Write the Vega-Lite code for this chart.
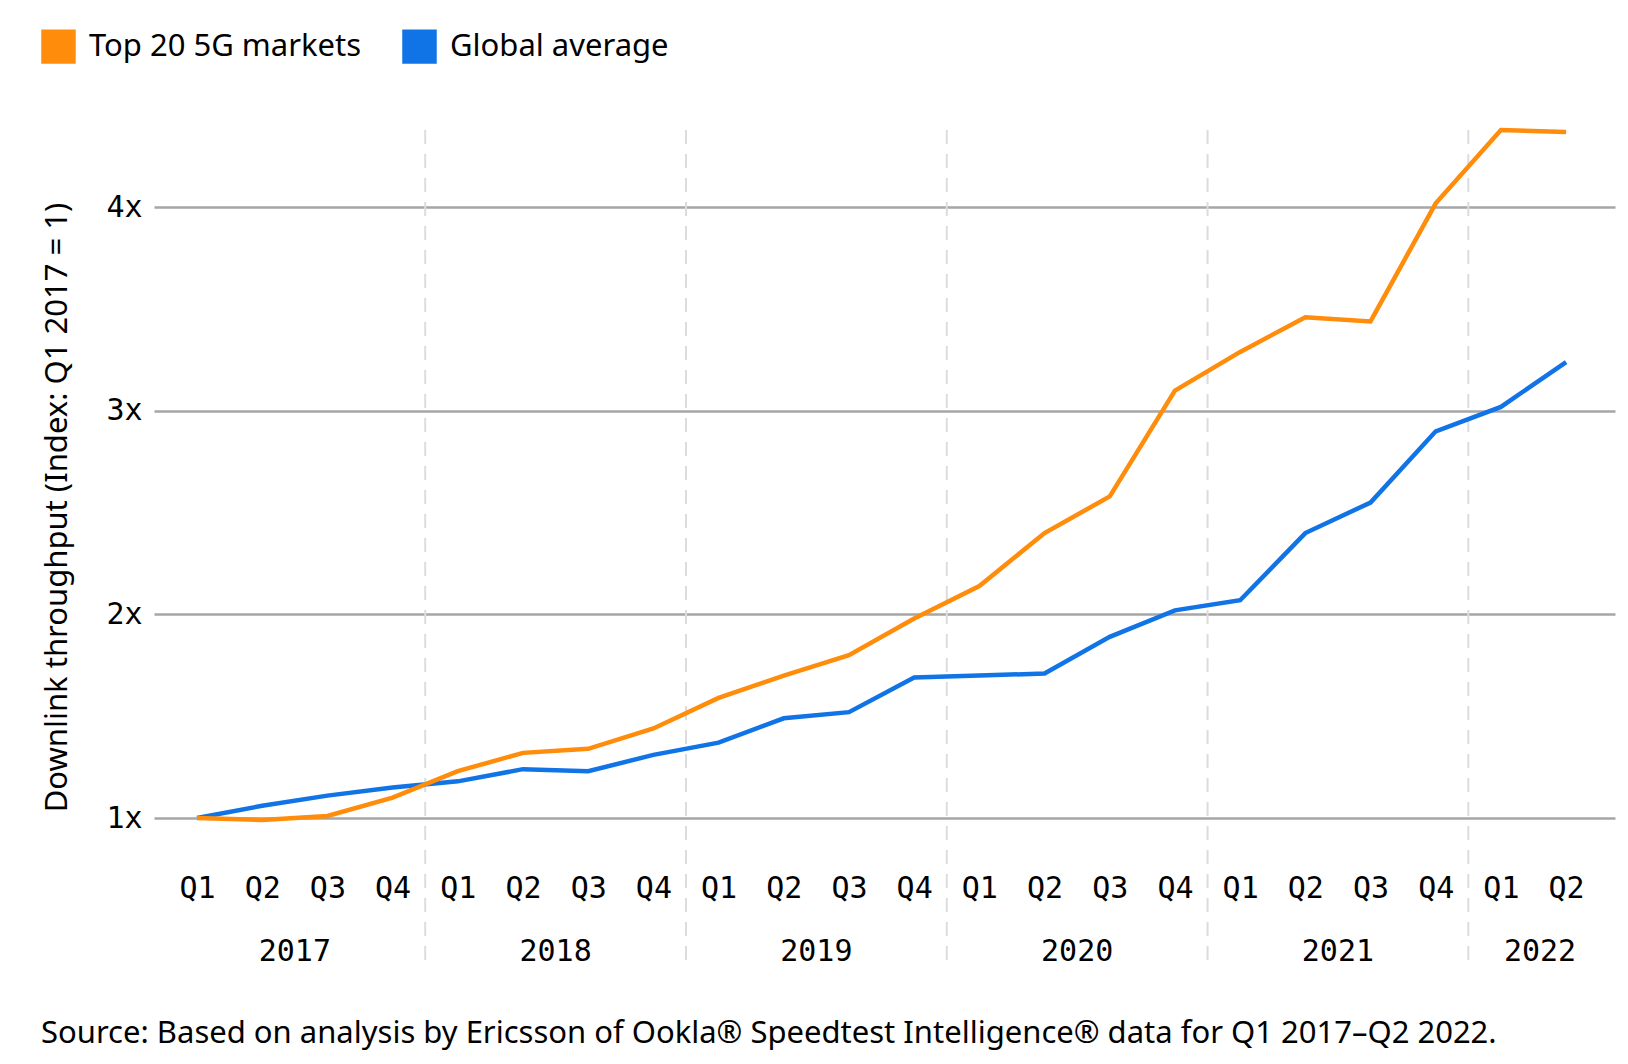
{
  "$schema": "https://vega.github.io/schema/vega-lite/v6.json",
  "width": 1461,
  "height": 692,
  "autosize": "none",
  "padding": {"left": 154, "top": 126, "right": 13, "bottom": 246},
  "background": "white",
  "config": {"view": {"stroke": null}, "font": "Noto Sans"},
  "title": {
    "text": "Source: Based on analysis by Ericsson of Ookla® Speedtest Intelligence® data for Q1 2017–Q2 2022.",
    "orient": "bottom",
    "anchor": "start",
    "frame": "group",
    "dx": -113,
    "offset": 52,
    "font": "Noto Sans",
    "fontSize": 31,
    "fontWeight": "normal",
    "color": "#000000"
  },
  "data": {
    "values": [
      {"idx": 0, "series": "Global average", "value": 1.00},
      {"idx": 1, "series": "Global average", "value": 1.06},
      {"idx": 2, "series": "Global average", "value": 1.11},
      {"idx": 3, "series": "Global average", "value": 1.15},
      {"idx": 4, "series": "Global average", "value": 1.18},
      {"idx": 5, "series": "Global average", "value": 1.24},
      {"idx": 6, "series": "Global average", "value": 1.23},
      {"idx": 7, "series": "Global average", "value": 1.31},
      {"idx": 8, "series": "Global average", "value": 1.37},
      {"idx": 9, "series": "Global average", "value": 1.49},
      {"idx": 10, "series": "Global average", "value": 1.52},
      {"idx": 11, "series": "Global average", "value": 1.69},
      {"idx": 12, "series": "Global average", "value": 1.70},
      {"idx": 13, "series": "Global average", "value": 1.71},
      {"idx": 14, "series": "Global average", "value": 1.89},
      {"idx": 15, "series": "Global average", "value": 2.02},
      {"idx": 16, "series": "Global average", "value": 2.07},
      {"idx": 17, "series": "Global average", "value": 2.40},
      {"idx": 18, "series": "Global average", "value": 2.55},
      {"idx": 19, "series": "Global average", "value": 2.90},
      {"idx": 20, "series": "Global average", "value": 3.02},
      {"idx": 21, "series": "Global average", "value": 3.24},
      {"idx": 0, "series": "Top 20 5G markets", "value": 1.00},
      {"idx": 1, "series": "Top 20 5G markets", "value": 0.99},
      {"idx": 2, "series": "Top 20 5G markets", "value": 1.01},
      {"idx": 3, "series": "Top 20 5G markets", "value": 1.10},
      {"idx": 4, "series": "Top 20 5G markets", "value": 1.23},
      {"idx": 5, "series": "Top 20 5G markets", "value": 1.32},
      {"idx": 6, "series": "Top 20 5G markets", "value": 1.34},
      {"idx": 7, "series": "Top 20 5G markets", "value": 1.44},
      {"idx": 8, "series": "Top 20 5G markets", "value": 1.59},
      {"idx": 9, "series": "Top 20 5G markets", "value": 1.70},
      {"idx": 10, "series": "Top 20 5G markets", "value": 1.80},
      {"idx": 11, "series": "Top 20 5G markets", "value": 1.98},
      {"idx": 12, "series": "Top 20 5G markets", "value": 2.14},
      {"idx": 13, "series": "Top 20 5G markets", "value": 2.40},
      {"idx": 14, "series": "Top 20 5G markets", "value": 2.58},
      {"idx": 15, "series": "Top 20 5G markets", "value": 3.10},
      {"idx": 16, "series": "Top 20 5G markets", "value": 3.29},
      {"idx": 17, "series": "Top 20 5G markets", "value": 3.46},
      {"idx": 18, "series": "Top 20 5G markets", "value": 3.44},
      {"idx": 19, "series": "Top 20 5G markets", "value": 4.02},
      {"idx": 20, "series": "Top 20 5G markets", "value": 4.38},
      {"idx": 21, "series": "Top 20 5G markets", "value": 4.37}
    ]
  },
  "encoding": {
    "x": {
      "field": "idx",
      "type": "quantitative",
      "scale": {"domain": [-0.66, 21.75], "nice": false, "zero": false},
      "axis": {
        "title": null,
        "values": [0, 1, 2, 3, 4, 5, 6, 7, 8, 9, 10, 11, 12, 13, 14, 15, 16, 17, 18, 19, 20, 21],
        "labelExpr": "['Q1','Q2','Q3','Q4'][datum.value % 4]",
        "grid": false,
        "ticks": false,
        "tickSize": 0,
        "domain": false,
        "labelFont": "DejaVu Sans Mono",
        "labelFontSize": 30,
        "labelColor": "#000000",
        "labelBaseline": "middle",
        "labelPadding": 70,
        "labelOverlap": false,
        "labelFlush": false
      }
    },
    "y": {
      "type": "quantitative",
      "scale": {"domain": [1, 4.4], "nice": false, "zero": false},
      "axis": {
        "title": "Downlink throughput (Index: Q1 2017 = 1)",
        "titleFont": "Noto Sans",
        "titleFontSize": 31,
        "titleFontWeight": "normal",
        "titleColor": "#000000",
        "titleX": -97,
        "titleY": 381,
        "titleBaseline": "middle",
        "titleAngle": -90,
        "titleAlign": "center",
        "values": [1, 2, 3, 4],
        "labelExpr": "datum.value + 'x'",
        "labelFont": "DejaVu Sans Mono",
        "labelFontSize": 30,
        "labelColor": "#000000",
        "labelPadding": 12,
        "labelBaseline": "middle",
        "grid": true,
        "gridColor": "#a6a6a6",
        "gridWidth": 2.5,
        "ticks": false,
        "domain": false
      }
    }
  },
  "layer": [
    {
      "data": {"values": [{"sep": 3.5}, {"sep": 7.5}, {"sep": 11.5}, {"sep": 15.5}, {"sep": 19.5}]},
      "mark": {"type": "rule", "color": "#dcdcdc", "strokeWidth": 2, "strokeDash": [14, 10], "clip": false},
      "encoding": {
        "x": {"field": "sep", "type": "quantitative"},
        "y": {"datum": 4.38},
        "y2": {"datum": 0.29}
      }
    },
    {
      "data": {"values": [
        {"year": "2017", "mid": 1.5},
        {"year": "2018", "mid": 5.5},
        {"year": "2019", "mid": 9.5},
        {"year": "2020", "mid": 13.5},
        {"year": "2021", "mid": 17.5},
        {"year": "2022", "mid": 20.6}
      ]},
      "mark": {"type": "text", "font": "DejaVu Sans Mono", "fontSize": 30, "color": "#000000", "baseline": "middle", "align": "center", "clip": false},
      "encoding": {
        "x": {"field": "mid", "type": "quantitative"},
        "y": {"datum": 0.34},
        "text": {"field": "year"}
      }
    },
    {
      "transform": [{"filter": "datum.series === 'Global average'"}],
      "mark": {"type": "line", "strokeWidth": 4.5, "strokeJoin": "miter"},
      "encoding": {
        "y": {"field": "value", "type": "quantitative"},
        "color": {"field": "series", "type": "nominal"}
      }
    },
    {
      "transform": [{"filter": "datum.series === 'Top 20 5G markets'"}],
      "mark": {"type": "line", "strokeWidth": 4.5, "strokeJoin": "miter"},
      "encoding": {
        "y": {"field": "value", "type": "quantitative"},
        "color": {
          "field": "series",
          "type": "nominal",
          "scale": {"domain": ["Top 20 5G markets", "Global average"], "range": ["#ff8c0a", "#1174e6"]},
          "legend": {
            "title": null,
            "orient": "none",
            "direction": "horizontal",
            "legendX": -113,
            "legendY": -97,
            "symbolType": "square",
            "symbolSize": 1190,
            "symbolStrokeWidth": 0,
            "symbolOpacity": 1,
            "labelFont": "Noto Sans",
            "labelFontSize": 31,
            "labelColor": "#000000",
            "labelOffset": 13,
            "columnPadding": 40,
            "labelLimit": 400,
            "encode": {
              "symbols": {
                "update": {
                  "fill": {"scale": "color", "field": "value"},
                  "strokeWidth": {"value": 0}
                }
              }
            }
          }
        }
      }
    },
    {
      "mark": {"type": "rule", "color": "#a6a6a6", "strokeWidth": 2.5},
      "encoding": {"y": {"datum": 1}}
    }
  ]
}
